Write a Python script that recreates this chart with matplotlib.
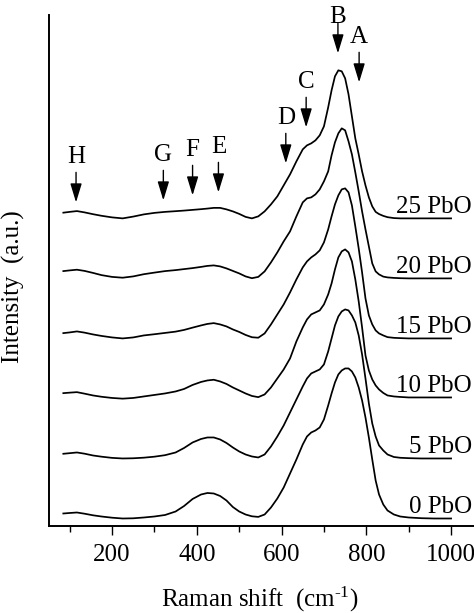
import matplotlib
matplotlib.use("Agg")
import matplotlib.pyplot as plt
from matplotlib.patches import ArrowStyle
from matplotlib.ticker import MultipleLocator

plt.rcParams['font.family'] = ['Liberation Serif', 'DejaVu Serif']
plt.rcParams['mathtext.fontset'] = 'custom'
plt.rcParams['mathtext.rm'] = 'Liberation Serif'
plt.rcParams['mathtext.it'] = 'Liberation Serif:italic'

# ---- data ----
raman_shift = [85, 100, 117, 135, 155, 175, 200, 225, 250, 275, 300, 325, 350, 370,
               390, 410, 425, 440, 455, 470, 485, 500, 515, 530, 545, 560, 575, 590,
               605, 620, 635, 650, 660, 670, 680, 690, 700, 710, 718, 726, 734, 742,
               750, 758, 766, 774, 782, 790, 798, 806, 814, 822, 830, 840, 850, 865,
               880, 900, 930, 960, 1000]

pbo_0 = [5, 5.5, 6, 4.8, 3.2, 2, 0.8, 0, 0.2, 1, 2, 3.5, 7, 12.5,
         19.5, 24, 25.5, 25, 22.5, 18, 11.5, 7, 4, 2.2, 1.6, 4, 11, 20,
         31, 45, 59, 74, 82, 86, 88, 91, 99, 113, 125, 136, 144, 148,
         150, 150, 147, 141, 131, 118, 101, 81, 59, 38, 24, 14, 8, 4,
         2, 1, 0.3, 0, 0]
pbo_5 = [4.7, 5.3, 6, 4.8, 3, 1.8, 0.6, 0, 0.2, 0.8, 1.8, 3.3, 6, 10.5,
         16, 19.5, 21, 21, 19, 15.5, 11, 7, 4, 2, 1, 4, 12, 22,
         33, 46, 59, 72, 80, 85, 87, 89, 94, 107, 120, 133, 142, 147,
         149, 148, 143, 136, 123, 104, 80, 55, 35, 22, 13, 8, 4, 1.5,
         0.7, 0.3, 0, 0, 0]
pbo_10 = [4.3, 4.8, 5.3, 3.8, 2, 0.7, -0.5, -1.2, -0.5, 1, 2.5, 4, 6, 8.5,
          12.5, 15.5, 17, 17.7, 16, 13.5, 10, 7, 4, 1.5, 0.3, 3, 10, 19,
          28, 39, 56, 70, 78, 83, 85, 87, 93, 103, 114, 128, 140, 146,
          148, 145, 136, 118, 96, 70, 42, 27, 18, 12, 8, 4.5, 2, 1,
          0.5, 0, 0, 0, 0]
pbo_15 = [5.3, 6, 7, 5.8, 4, 2.5, 1, 0, 1, 3, 4.2, 5.5, 6.8, 8.5,
          10.8, 13, 14.5, 15.3, 14, 12, 9, 6.5, 3.5, 1.2, 0.7, 5, 14, 24,
          34, 46, 59, 71, 77, 81, 84, 88, 96, 109, 122, 134, 143, 149,
          150, 146, 133, 112, 90, 66, 40, 23, 14, 8, 5, 3, 1.3, 0.6,
          0.3, 0, 0, 0, 0]
pbo_20 = [7.3, 8, 8.7, 7.5, 5.5, 3.3, 1.5, 0.7, 2, 4.2, 5.8, 7.3, 8.3, 9.3,
          10.3, 11.5, 12.5, 13, 12, 10, 7.5, 5, 2, 0.2, 1.5, 7, 16, 26,
          37, 47, 62, 76, 80, 81, 84, 89, 97, 107, 123, 136, 145, 150,
          148, 137, 124, 106, 87, 67, 49, 32, 15, 7, 4, 1.8, 1, 0.5,
          0.2, 0, 0, 0, 0]
pbo_25 = [5.7, 6.5, 7.3, 6, 4.2, 2.6, 1, 0, 1.8, 4, 5.5, 6.5, 7.2, 7.8,
          8.5, 9.2, 9.8, 10.5, 10.5, 9, 7, 4.5, 1.5, 0, 2, 7, 14, 22,
          33, 44, 57, 69, 73, 75, 78, 83, 92, 111, 128, 142, 148, 147,
          140, 124, 102, 80, 64, 47, 33, 21, 12, 6.5, 4.3, 2.5, 1.2, 0.3,
          0, 0, 0, 0, 0]

spectra = [pbo_0, pbo_5, pbo_10, pbo_15, pbo_20, pbo_25]
sample_labels = ['0 PbO', '5 PbO', '10 PbO', '15 PbO', '20 PbO', '25 PbO']
offsets = [0, 60, 121, 180, 240, 300]

band_letters = ['H', 'G', 'F', 'E', 'D', 'C', 'B', 'A']
band_positions = [115, 321, 390, 451, 610, 658, 733, 783]
band_arrow_tip = [316, 318, 323, 326, 355, 391, 465, 436]

# ---- figure ----
W, H = 474, 613
fig = plt.figure(figsize=(W / 100, H / 100), dpi=100)
ax = fig.add_axes([48.5 / W, 87 / H, 428 / W, 511 / H])

FS = 18
for y, off, lab in zip(spectra, offsets, sample_labels):
    ax.plot(raman_shift, [v + off for v in y], color='black', lw=1.25,
            solid_joinstyle='round')
    ax.text(1049, off + 5.5, lab, ha='right', va='baseline', fontsize=FS,
            clip_on=False)

head = ArrowStyle('-|>', head_length=1.15, head_width=0.35)
for letter, bx, tip in zip(band_letters, band_positions, band_arrow_tip):
    ax.annotate('', xy=(bx, tip), xytext=(bx, tip + 30),
                arrowprops=dict(arrowstyle=head, mutation_scale=10, lw=1.0,
                                color='black', shrinkA=0, shrinkB=0),
                annotation_clip=False)
    ly = min(tip + 45, 501)
    ax.text(bx, ly, letter, ha='center', va='center', fontsize=FS,
            clip_on=False)

ax.set_xlim(50, 1060)
ax.set_ylim(-7.5, 503.3)
ax.xaxis.set_major_locator(MultipleLocator(200))
ax.xaxis.set_minor_locator(MultipleLocator(100))
ax.set_xticks([200, 400, 600, 800, 1000])
ax.set_yticks([])
ax.tick_params(axis='x', which='major', direction='out', length=6.5, width=1.0,
               labelsize=FS, pad=6.5)
ax.tick_params(axis='x', which='minor', direction='out', length=4.3, width=1.0)
for s in ['top', 'right']:
    ax.spines[s].set_visible(False)
for s in ['left', 'bottom']:
    ax.spines[s].set_linewidth(1.4)

fig.text(260 / W, 1 - 606.7 / H, 'Raman shift  (cm$^{\\rm \u2010 1}$)', ha='center',
         va='baseline', fontsize=FS)
fig.text(13 / W, 1 - 286.5 / H, 'Intensity  (a.u.)', ha='center', va='center',
         rotation=90, fontsize=FS)

fig.savefig('out.png', dpi=100)
